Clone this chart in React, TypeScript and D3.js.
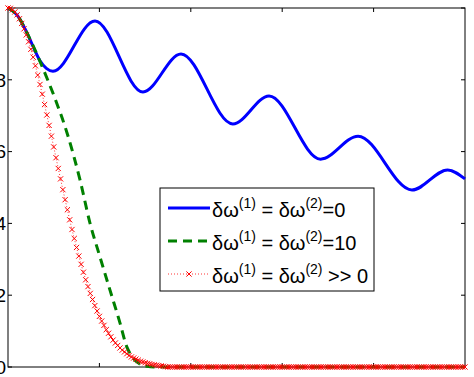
import React from "react";
import * as d3 from "d3";

const W = 474;
const H = 377;

// Blue: δω(1) = δω(2) = 0  (x, value)
const blueX = [0, 0.1, 0.2, 0.274, 0.35, 0.42, 0.492, 0.952, 1.477, 1.893, 2.46, 2.856, 3.42, 3.83, 4.42, 4.81, 5];
const blueY = [1, 0.98, 0.935, 0.893, 0.853, 0.832, 0.824, 0.964, 0.766, 0.872, 0.677, 0.755, 0.579, 0.643, 0.493, 0.549, 0.524];

// Green dashed: δω(1) = δω(2) = 10
const greenX = [0, 0.1, 0.2, 0.274, 0.372, 0.514, 0.646, 0.788, 0.897, 1.007, 1.116, 1.225, 1.3, 1.35, 1.42, 1.52, 1.6, 5];
const greenY = [1, 0.98, 0.935, 0.895, 0.838, 0.748, 0.652, 0.521, 0.401, 0.306, 0.214, 0.123, 0.056, 0.032, 0.012, 0.002, 0, 0];

// Red dotted with x markers: δω(1) = δω(2) >> 0, sampled every 0.025
const redStep = 0.025;
const redHead = [
  1, 0.999, 0.995, 0.989, 0.981, 0.97, 0.957, 0.942, 0.925, 0.906,
  0.885, 0.863, 0.839, 0.813, 0.787, 0.76, 0.731, 0.702, 0.673, 0.643,
  0.613, 0.583, 0.553, 0.524, 0.494, 0.466, 0.438, 0.41, 0.383, 0.358,
  0.333, 0.309, 0.286, 0.264, 0.243, 0.224, 0.205, 0.188, 0.171, 0.156,
  0.141, 0.128, 0.116, 0.104, 0.094, 0.084, 0.075, 0.067, 0.06, 0.053,
  0.047, 0.042, 0.037, 0.032, 0.028, 0.025, 0.022, 0.019, 0.016, 0.014,
  0.012, 0.01, 0.009, 0.007, 0.006, 0.005, 0.004, 0.003, 0.002, 0.001,
];
const redTailZeroCount = 131;

const yTickValues = [0, 0.2, 0.4, 0.6, 0.8, 1];
const yTickLabels = ["0", "0.2", "0.4", "0.6", "0.8", ""];
const xTickValues = [1, 2, 3, 4];

const legendLabels = [
  { sup1: "(1)", sup2: "(2)", tail: "=0", mid: " = δω" },
  { sup1: "(1)", sup2: "(2)", tail: "=10", mid: " = δω" },
  { sup1: "(1)", sup2: "(2)", tail: " >> 0", mid: " = δω" },
];

const FONT = "'Liberation Sans', Arial, Helvetica, sans-serif";

export default function App() {
  const x = d3.scaleLinear().domain([0, 5]).range([8, 465]);
  const y = d3.scaleLinear().domain([0, 1]).range([367, 8]);

  const blue = blueX.map((v, i) => [v, blueY[i]] as [number, number]);
  const green = greenX.map((v, i) => [v, greenY[i]] as [number, number]);
  const redVals = [...redHead, ...new Array(redTailZeroCount).fill(0)];
  const red = redVals.map((v, i) => [i * redStep, v] as [number, number]);

  const smooth = d3
    .line<[number, number]>()
    .x((d) => x(d[0]))
    .y((d) => y(d[1]))
    .curve(d3.curveMonotoneX);
  const straight = d3
    .line<[number, number]>()
    .x((d) => x(d[0]))
    .y((d) => y(d[1]));

  const [x0, x1] = x.range();
  const [y0, y1] = y.range();
  const markerPath = "M-2.6,-2.6L2.6,2.6M-2.6,2.6L2.6,-2.6";

  const legendRows = [208, 241, 274];

  return (
    <svg
      width={W}
      height={H}
      style={{ position: "absolute", left: 0, top: 0, background: "#fff" }}
      fontFamily={FONT}
    >
      <rect x={0} y={0} width={W} height={H} fill="#fff" />
      {/* frame */}
      <rect x={x0} y={y1} width={x1 - x0} height={y0 - y1} fill="none" stroke="#000" strokeWidth={1} />
      {/* ticks */}
      {xTickValues.map((t) => (
        <g key={"xt" + t}>
          <line x1={x(t)} x2={x(t)} y1={y0} y2={y0 - 4} stroke="#000" />
          <line x1={x(t)} x2={x(t)} y1={y1} y2={y1 + 4} stroke="#000" />
        </g>
      ))}
      {yTickValues.map((t, i) => (
        <g key={"yt" + t}>
          <line x1={x0} x2={x0 + 4} y1={y(t)} y2={y(t)} stroke="#000" />
          <line x1={x1} x2={x1 - 4} y1={y(t)} y2={y(t)} stroke="#000" />
          <text x={6} y={y(t)} dy="0.36em" textAnchor="end" fontSize={19} fill="#000">
            {yTickLabels[i]}
          </text>
        </g>
      ))}

      {/* series */}
      <path d={smooth(blue) || ""} fill="none" stroke="#0000ff" strokeWidth={3} />
      <path d={smooth(green) || ""} fill="none" stroke="#008000" strokeWidth={3} strokeDasharray="9,6" />
      <path d={straight(red) || ""} fill="none" stroke="#ff0000" strokeWidth={0.8} strokeDasharray="1,2" />
      {red.map((d, i) => (
        <path
          key={"m" + i}
          d={markerPath}
          transform={`translate(${x(d[0])},${y(d[1])})`}
          stroke="#ff0000"
          strokeWidth={1}
          fill="none"
        />
      ))}

      {/* legend */}
      <rect x={160} y={188} width={214} height={103} fill="#fff" stroke="#000" strokeWidth={1} />
      <line x1={168} x2={210} y1={legendRows[0]} y2={legendRows[0]} stroke="#0000ff" strokeWidth={3} />
      <line x1={168} x2={210} y1={legendRows[1]} y2={legendRows[1]} stroke="#008000" strokeWidth={3} strokeDasharray="9,6" />
      <line x1={168} x2={210} y1={legendRows[2]} y2={legendRows[2]} stroke="#ff0000" strokeWidth={0.8} strokeDasharray="1,2" />
      <path d={markerPath} transform={`translate(189,${legendRows[2]})`} stroke="#ff0000" strokeWidth={1} fill="none" />
      {legendLabels.map((l, i) => (
        <text key={"lg" + i} x={212} y={legendRows[i] + 9} fontSize={20} fill="#000" style={{ whiteSpace: "pre" }}>
          δω
          <tspan fontSize={14} dy={-9}>{l.sup1}</tspan>
          <tspan dy={9}>{l.mid}</tspan>
          <tspan fontSize={14} dy={-9}>{l.sup2}</tspan>
          <tspan dy={9}>{l.tail}</tspan>
        </text>
      ))}
    </svg>
  );
}
